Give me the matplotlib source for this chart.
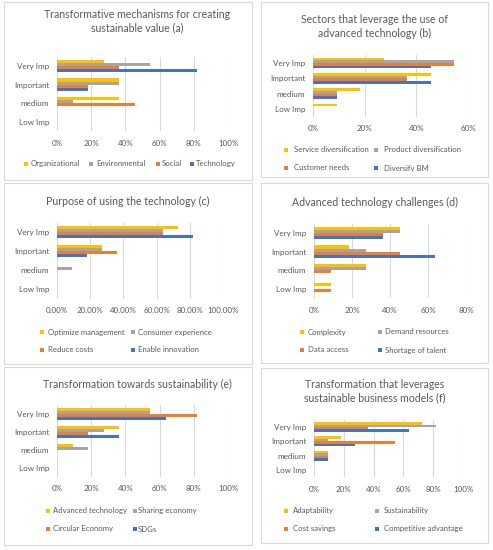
import matplotlib
matplotlib.use('Agg')
import matplotlib.pyplot as plt
from matplotlib.patches import Rectangle
from matplotlib.ticker import FuncFormatter
import numpy as np

plt.rcParams['font.family'] = ['Lato', 'DejaVu Sans']

W, H = 493, 550
fig = plt.figure(figsize=(W / 100, H / 100), dpi=100)

categories = ['Very Imp', 'Important', 'medium', 'Low Imp']
colors = ['#FFC000', '#A5A5A5', '#ED7D31', '#4472C4']
TXT = '#595959'
GRID = '#D9D9D9'

# ---- data ----
a_title = 'Transformative mechanisms for creating\nsustainable value (a)'
a_series = ['Organizational', 'Environmental', 'Social', 'Technology']
a_organizational = [0.273, 0.364, 0.364, 0.0]
a_environmental = [0.545, 0.364, 0.091, 0.0]
a_social = [0.364, 0.182, 0.455, 0.0]
a_technology = [0.818, 0.182, 0.0, 0.0]
a_ticks = [0.0, 0.2, 0.4, 0.6, 0.8, 1.0]

b_title = 'Sectors that leverage the use of\nadvanced technology (b)'
b_series = ['Service diversification', 'Product diversification', 'Customer needs', 'Diversify BM']
b_service = [0.273, 0.455, 0.182, 0.091]
b_product = [0.545, 0.364, 0.091, 0.0]
b_customer = [0.545, 0.364, 0.091, 0.0]
b_diversify = [0.455, 0.455, 0.091, 0.0]
b_ticks = [0.0, 0.2, 0.4, 0.6]

c_title = 'Purpose of using the technology (c)'
c_series = ['Optimize management', 'Consumer experience', 'Reduce costs', 'Enable innovation']
c_optimize = [0.727, 0.273, 0.0, 0.0]
c_consumer = [0.636, 0.273, 0.091, 0.0]
c_reduce = [0.636, 0.364, 0.0, 0.0]
c_enable = [0.818, 0.182, 0.0, 0.0]
c_ticks = [0.0, 0.2, 0.4, 0.6, 0.8, 1.0]

d_title = 'Advanced technology challenges (d)'
d_series = ['Complexity', 'Demand resources', 'Data access', 'Shortage of talent']
d_complexity = [0.455, 0.182, 0.273, 0.091]
d_demand = [0.455, 0.273, 0.273, 0.0]
d_data = [0.364, 0.455, 0.091, 0.091]
d_shortage = [0.364, 0.636, 0.0, 0.0]
d_ticks = [0.0, 0.2, 0.4, 0.6, 0.8]

e_title = 'Transformation towards sustainability (e)'
e_series = ['Advanced technology', 'Sharing economy', 'Circular Economy', 'SDGs']
e_advanced = [0.545, 0.364, 0.091, 0.0]
e_sharing = [0.545, 0.273, 0.182, 0.0]
e_circular = [0.818, 0.182, 0.0, 0.0]
e_sdgs = [0.636, 0.364, 0.0, 0.0]
e_ticks = [0.0, 0.2, 0.4, 0.6, 0.8, 1.0]

f_title = 'Transformation that leverages\nsustainable business models (f)'
f_series = ['Adaptability', 'Sustainability', 'Cost savings', 'Competitive advantage']
f_adaptability = [0.727, 0.182, 0.091, 0.0]
f_sustainability = [0.818, 0.091, 0.091, 0.0]
f_cost = [0.364, 0.545, 0.091, 0.0]
f_competitive = [0.636, 0.273, 0.091, 0.0]
f_ticks = [0.0, 0.2, 0.4, 0.6, 0.8, 1.0]


def fx(px):
    return px / W


def fy(py):
    return 1 - py / H


def pct0(v, pos):
    return f'{v * 100:.0f}%'


def pct2(v, pos):
    return f'{v * 100:.2f}%'


panels = [
    dict(title=a_title, series=a_series, vals=[a_organizational, a_environmental, a_social, a_technology],
         ticks=a_ticks, fmt=pct0, box=(4, 2, 252, 180), ax=(57, 56.7, 228, 131.3),
         tx=137.5, ty=21.5, legend_rows=[164], legend_cols=None,
         legend_single=[(24, 31), (89, 96), (156, 162), (190, 196)]),
    dict(title=b_title, series=b_series, vals=[b_service, b_product, b_customer, b_diversify],
         ticks=b_ticks, fmt=pct0, box=(261, 2, 488, 177), ax=(313, 55.3, 468, 116.7),
         tx=374.5, ty=26.5, legend_rows=[150, 168], legend_cols=[(284, 294), (374, 384)]),
    dict(title=c_title, series=c_series, vals=[c_optimize, c_consumer, c_reduce, c_enable],
         ticks=c_ticks, fmt=pct2, box=(4, 183, 252, 364), ax=(57, 222.5, 223, 298.5),
         tx=128, ty=201, legend_rows=[332, 350], legend_cols=[(40, 48), (131, 138)]),
    dict(title=d_title, series=d_series, vals=[d_complexity, d_demand, d_data, d_shortage],
         ticks=d_ticks, fmt=pct0, box=(261, 183, 488, 363), ax=(314, 223.7, 466, 298.3),
         tx=375, ty=202, legend_rows=[332, 350], legend_cols=[(300, 308), (378, 385)]),
    dict(title=e_title, series=e_series, vals=[e_advanced, e_sharing, e_circular, e_sdgs],
         ticks=e_ticks, fmt=pct0, box=(4, 367, 252, 545), ax=(57, 405, 228, 477),
         tx=137.5, ty=384, legend_rows=[511, 529], legend_cols=[(46, 53), (133, 138)]),
    dict(title=f_title, series=f_series, vals=[f_adaptability, f_sustainability, f_cost, f_competitive],
         ticks=f_ticks, fmt=pct0, box=(261, 368, 488, 543), ax=(314, 419.8, 463, 477.2),
         tx=374.7, ty=391, legend_rows=[511, 529], legend_cols=[(284, 293), (375, 384)]),
]

FS_TITLE = 7.6
FS = 5.8
FS_LEG = 5.6
SQ = 4

for p in panels:
    x0, y0, x1, y1 = p['box']
    fig.patches.append(Rectangle((fx(x0), fy(y1)), fx(x1 - x0), (y1 - y0) / H,
                                 transform=fig.transFigure, facecolor='none',
                                 edgecolor=GRID, linewidth=0.8, zorder=-5))
    ax0, ay0, ax1, ay1 = p['ax']
    ax = fig.add_axes([fx(ax0), fy(ay1), fx(ax1 - ax0), (ay1 - ay0) / H])
    ax.set_facecolor('none')
    n = len(categories)
    y = np.arange(n)
    group = 0.68
    h = group / 4
    for k, (vals, col) in enumerate(zip(p['vals'], colors)):
        ax.barh(y + (k - 1.5) * h, vals, height=h, color=col, zorder=3)
    ax.set_ylim(n - 0.5, -0.5)
    ax.set_xlim(p['ticks'][0], p['ticks'][-1])
    ax.set_xticks(p['ticks'])
    ax.xaxis.set_major_formatter(FuncFormatter(p['fmt']))
    ax.set_yticks(y)
    ax.set_yticklabels(categories)
    ax.grid(axis='x', color=GRID, linewidth=0.8, zorder=0)
    ax.set_axisbelow(True)
    for s in ax.spines.values():
        s.set_visible(False)
    ax.tick_params(length=0, labelsize=FS, labelcolor=TXT)
    ax.tick_params(axis='y', pad=5.5)
    ax.tick_params(axis='x', pad=6)
    fig.text(fx(p['tx']), fy(p['ty']), p['title'], ha='center', va='center',
             fontsize=FS_TITLE, color=TXT, linespacing=1.25)
    # legend
    if p['legend_cols'] is None:
        entries = [(sx, tx, p['legend_rows'][0]) for sx, tx in p['legend_single']]
    else:
        entries = []
        for r in range(2):
            for c in range(2):
                sx, tx = p['legend_cols'][c]
                entries.append((sx, tx, p['legend_rows'][r]))
    for (sx, tx, ry), name, col in zip(entries, p['series'], colors):
        fig.patches.append(Rectangle((fx(sx), fy(ry + SQ / 2)), fx(SQ), SQ / H,
                                     transform=fig.transFigure, facecolor=col,
                                     edgecolor='none', zorder=2))
        fig.text(fx(tx), fy(ry), name, ha='left', va='center', fontsize=FS_LEG, color=TXT)

fig.savefig('out.png', dpi=100, facecolor='white')
